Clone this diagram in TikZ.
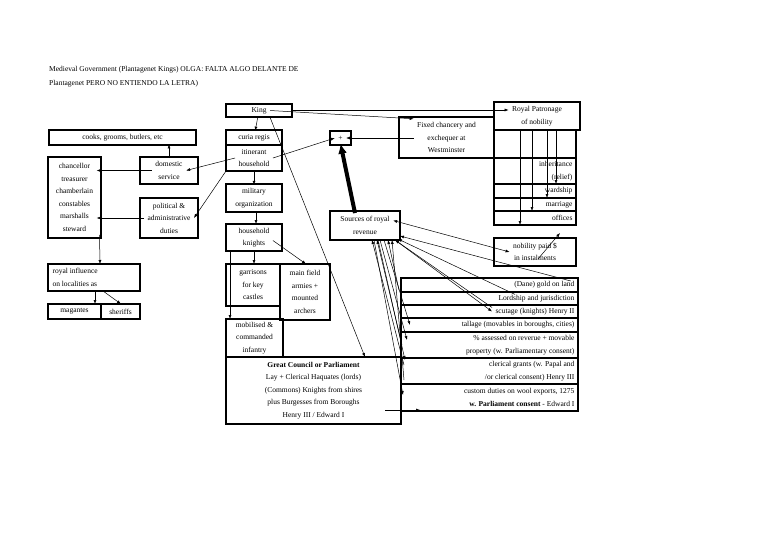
\documentclass[tikz,border=0pt]{standalone}
\usepackage{fontspec}
\setmainfont{Liberation Serif}
\usetikzlibrary{arrows.meta}
\begin{document}
\begin{tikzpicture}[x=1pt,y=-1pt,
 bx/.style={draw,line width=2pt,inner sep=0pt},
 t/.style={font=\fontsize{7.5}{12.5}\selectfont,align=center},
 a/.style={-{Latex[length=4pt,width=3pt]},line width=0.5pt},
 l/.style={line width=0.5pt}]
\useasboundingbox (0,0) rectangle (768,543);
\node[anchor=north west,align=left,font=\fontsize{7.5}{14}\selectfont,inner sep=0pt] (title) at (49,66)
 {Medieval Government (Plantagenet Kings) OLGA: FALTA ALGO DELANTE DE\\Plantagenet PERO NO ENTIENDO LA LETRA)};
\newcommand{\bxx}[6]{\draw[line width=2pt] (#2,#3) rectangle (#4,#5); \node[t] (#1) at ({(#2+#4)/2},{(#3+#5)/2}) {#6};}
\bxx{king}{226}{104}{292}{117}{King}
\bxx{curia}{226}{130}{282}{145}{curia regis}
\bxx{house}{226}{145}{282}{171}{itinerant\\household}
\bxx{cooks}{49}{130}{196}{145}{cooks, grooms, butlers, etc}
\bxx{dom}{140}{157}{198}{184}{domestic\\service}
\bxx{chan}{48}{157}{101}{238}{chancellor\\treasurer\\chamberlain\\constables\\marshalls\\steward}
\bxx{pol}{140}{198}{198}{238}{political \&\\administrative\\duties}
\bxx{mil}{226}{184}{282}{212}{military\\organization}
\bxx{kn}{226}{224}{282}{251}{household\\knights}
\bxx{gar}{226}{264}{280}{306}{garrisons\\for key\\castles}
\bxx{field}{280}{264}{330}{320}{main field\\armies +\\mounted\\archers}
\bxx{mob}{226}{319}{283}{357}{mobilised \&\\commanded\\infantry}
\draw[line width=2pt] (48,264) rectangle (140,291);
\node[t,align=left,anchor=west] (infl) at (49,277.5) {royal influence\\on localities as};
\bxx{mag}{48}{304}{101}{319}{magantes}
\bxx{sher}{101}{304}{140}{319}{sheriffs}
\bxx{plus}{330}{131}{351}{145}{+}
\bxx{fixed}{399}{117}{494}{158}{Fixed chancery and\\exchequer at\\Westminster}
\bxx{pat}{494}{102}{580}{130}{Royal Patronage\\of nobility}
\draw[line width=2pt] (494,130) rectangle (576,225);
\draw[line width=2pt] (494,158) rectangle (576,184);
\node[t,align=right,anchor=east] (inh) at (576,171) {inheritance\\(relief)};
\draw[line width=2pt] (494,184) rectangle (576,198);
\node[t,anchor=east] (ward) at (576,191) {wardship};
\draw[line width=2pt] (494,198) rectangle (576,211);
\node[t,anchor=east] (mar) at (576,204.5) {marriage};
\node[t,anchor=east] (off) at (576,218) {offices};
\bxx{src}{330}{211}{400}{240}{Sources of royal\\revenue}
\bxx{nob}{494}{238}{576}{266}{nobility paid \$\\in instalments}
\tikzset{st/.style={t,anchor=east,align=right,font=\fontsize{7.5}{13}\selectfont}}
\draw[line width=2pt] (401,278) rectangle (578,292); \node[st] (dane) at (578,285) {(Dane) gold on land};
\draw[line width=2pt] (401,292) rectangle (578,305); \node[st] (lord) at (578,298.5) {Lordship and jurisdiction};
\draw[line width=2pt] (401,305) rectangle (578,318); \node[st] (scut) at (578,311.5) {scutage (knights) Henry II};
\draw[line width=2pt] (401,318) rectangle (578,332); \node[st] (tall) at (578,325) {tallage (movables in boroughs, cities)};
\draw[line width=2pt] (401,332) rectangle (578,358); \node[st] (pct) at (578,345) {\% assessed on reverue + movable\\property (w. Parliamentary consent)};
\draw[line width=2pt] (401,358) rectangle (578,384); \node[st] (cler) at (578,371) {clerical grants (w. Papal and\\/or clerical consent) Henry III};
\draw[line width=2pt] (401,384) rectangle (578,411); \node[st] (cust) at (578,397.5) {custom duties on wool exports, 1275\\\textbf{w. Parliament consent} - Edward I};
\bxx{gc}{226}{357}{401}{424}{\textbf{Great Council or Parliament}\\Lay + Clerical Haquates (lords)\\(Commons) Knights from shires\\plus Burgesses from Boroughs\\Henry III / Edward I}
% connectors
\draw[a] (king) -- (curia);
\draw[a] (king.east) -- (fixed.north west);
\draw[a] (292,110) -- (pat.west |- 0,110);
\draw[a] (king.south east) -- (365,357);
\draw[a] (house.east) -- (plus.west);
\draw[a] (fixed.west |- plus) -- (plus.east);
\draw[-{Latex[length=10pt,width=9pt]},line width=4pt] (src.north) ++(-10,0) -- (plus.south);
\draw[a] (house.west) -- (dom.east);
\draw[a] (226,171) -- (pol.east);
\draw[a] (dom.north) -- (dom.north |- cooks.south);
\draw[a] (dom.west) -- (chan.east |- dom.west);
\draw[a] (pol.west) -- (chan.east |- pol.west);
\draw[a] (chan.south) ++(25,0) -- (100,264);
\draw[a] (95,291) -- (95,304);
\draw[a] (103,291) -- (121,304);
\draw[a] (curia.south) ++(0,26) -- (mil.north);
\draw[a] (mil.south) ++(2,0) -- (256,224);
\draw[a] (254,251) -- (254,264);
\draw[a] (kn.east) ++(0,3) -- (306,264);
\draw[a] (230,251) -- (230,319);
\foreach \x/\y in {520/225,532/211,547/198,556/184}
 \draw[a] (\x,130) -- (\x,\y);
\draw[a] (538,318-59) -- (560,233);
\draw[{Latex[length=4pt,width=3pt]}-{Latex[length=4pt,width=3pt]},line width=0.5pt] (src.east) ++(0,-5) -- (nob.west);
% stack to sources
\draw[a] (dane.west) ++(60,-4) -- (400,236);
\draw[a] (lord.west) ++(20,-4) -- (398,239);
\draw[a] (scut.west) ++(0,-4) -- (395,240);
\draw[a] (395,240) -- (scut.west);
\draw[a] (384,240) -- (410,325);
\draw[a] (380,240) -- (407,340);
\draw[a] (378,240) -- (405,360);
\draw[a] (374,240) -- (403,395);
\draw[a] (399,290) -- (388,240);
\draw[a] (402,345) -- (377,240);
\draw[a] (404,365) -- (372,240);
\draw[a] (404,380) -- (392,240);
\draw[a] (385,410) -- (420,410);
\end{tikzpicture}
\end{document}
